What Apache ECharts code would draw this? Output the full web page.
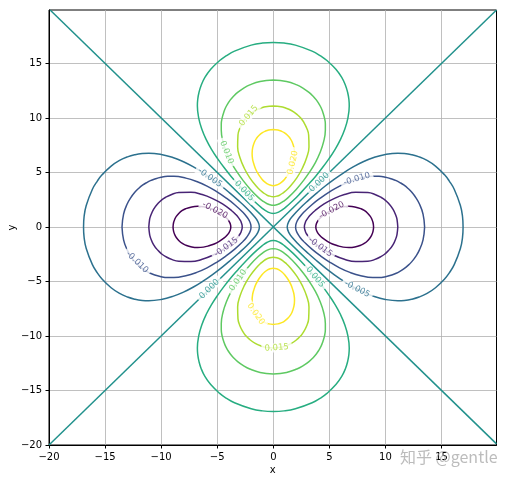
<!DOCTYPE html>
<html><head><meta charset="utf-8">
<script src="https://cdn.jsdelivr.net/npm/echarts@6/dist/echarts.min.js"></script>
<style>html,body{margin:0;padding:0;background:#fff}#c{width:506px;height:483px}</style>
</head><body><div id="c"></div>
<script>
// ---- data ----
const xTicks = [-20, -15, -10, -5, 0, 5, 10, 15];
const yTicks = [-20, -15, -10, -5, 0, 5, 10, 15];
const levelNames = ['-0.020', '-0.015', '-0.010', '-0.005', '0.000', '0.005', '0.010', '0.015', '0.020'];

// right half of the upper (positive) lobe for each positive level, from top point down to bottom point
const lobe005 = [[0,16.92],[0.96,16.87],[1.97,16.68],[3.46,16.13],[4.21,15.69],[4.78,15.27],[5.58,14.46],[6.10,13.71],[6.43,13.0],[6.63,12.33],[6.74,11.69],[6.77,11.10],[6.65,9.99],[6.37,8.96],[5.98,8.01],[5.51,7.12],[4.97,6.27],[4.39,5.45],[3.78,4.66],[3.13,3.90],[2.46,3.15],[1.77,2.42],[1.01,1.73],[0.54,1.40],[0,1.24]];
const lobe010 = [[0,13.49],[1.18,13.35],[2.10,13.03],[2.67,12.72],[3.18,12.35],[3.55,11.99],[3.85,11.63],[4.07,11.29],[4.25,10.96],[4.38,10.63],[4.56,10.01],[4.64,9.42],[4.64,8.86],[4.48,7.80],[4.17,6.83],[3.75,5.91],[3.24,5.05],[2.67,4.23],[2.04,3.44],[1.32,2.69],[0.89,2.34],[0.55,2.13],[0.22,2.01],[0,1.99]];
const lobe015 = [[0,11.10],[0.69,11.03],[0.96,10.96],[1.61,10.68],[2.17,10.27],[2.48,9.95],[2.70,9.63],[3.0,9.01],[3.15,8.43],[3.18,7.34],[2.97,6.34],[2.60,5.41],[2.11,4.53],[1.49,3.71],[1.11,3.32],[0.83,3.09],[0.60,2.94],[0.45,2.87],[0,2.77]];
const lobe020 = [[0,8.94],[0.41,8.89],[0.75,8.77],[0.97,8.65],[1.26,8.41],[1.51,8.11],[1.67,7.82],[1.84,7.27],[1.89,6.74],[1.85,6.23],[1.73,5.75],[1.56,5.27],[1.32,4.82],[1.01,4.38],[0.77,4.13],[0.54,3.96],[0.29,3.84],[0,3.79]];

// the 0.000 contour (two diagonals)
const zeroLineA = [[-20,-20],[19.9,19.9]];
const zeroLineB = [[-19.9,19.9],[19.9,-19.9]];

// contour labels: text, x, y, rotation (deg)
const contourLabels = [
  ['0.015', -2.2, 10.2, 50], ['0.010', -4.17, 6.83, -68], ['0.005', -2.6, 3.3, -47], ['0.020', 1.75, 5.9, 77],
  ['0.020', -1.57, -7.98, -55], ['0.015', 0.3, -11.08, 4], ['0.010', -3.14, -4.9, 55], ['0.005', 3.73, -4.6, -50],
  ['0.000', 4.1, 4.1, 44], ['0.000', -5.7, -5.7, 44],
  ['-0.005', -5.65, 4.52, -35], ['-0.020', -5.2, 1.53, -28], ['-0.010', -12.15, -3.22, -44], ['-0.015', -4.19, -1.85, 36],
  ['-0.010', 7.45, 4.4, 17], ['-0.020', 5.2, 1.53, 28], ['-0.015', 4.19, -1.85, -36], ['-0.005', 7.48, -5.7, -27]
];

// ---- styling ----
const palette = ['#440154','#482475','#3b528b','#2c718e','#21918c','#27ad81','#5ec962','#addc30','#fde725'];
const colorOf = t => palette[levelNames.indexOf(t)];

function closeLobe(half) {
  return half.concat(half.slice(0, -1).reverse().map(p => [-p[0], p[1]]));
}
const posLobes = [['0.005', lobe005], ['0.010', lobe010], ['0.015', lobe015], ['0.020', lobe020]];
const series = [];
function lineSeries(data, color) {
  return { type: 'line', data: data, smooth: 0.45, showSymbol: false, symbol: 'none', clip: true,
    lineStyle: { color: color, width: 1.5 }, z: 2, silent: true };
}
posLobes.forEach(([name, half]) => {
  const full = closeLobe(half);
  const neg = '-' + name;
  series.push(lineSeries(full, colorOf(name)));                                  // upper positive lobe
  series.push(lineSeries(full.map(p => [p[0], -p[1]]), colorOf(name)));          // lower positive lobe
  series.push(lineSeries(full.map(p => [p[1], p[0]]), colorOf(neg)));            // right negative lobe
  series.push(lineSeries(full.map(p => [-p[1], p[0]]), colorOf(neg)));           // left negative lobe
});
series.push(lineSeries(zeroLineA, colorOf('0.000')));
series.push(lineSeries(zeroLineB, colorOf('0.000')));
series.push({
  type: 'scatter', z: 5, silent: true, symbolSize: 1, itemStyle: { color: 'rgba(0,0,0,0)' },
  data: contourLabels.map(l => ({
    value: [l[1], l[2]],
    label: { show: true, position: 'inside', formatter: l[0], rotate: l[3], color: colorOf(l[0]),
      fontSize: 8.5, fontFamily: 'DejaVu Sans', backgroundColor: '#fff', padding: [0, 3],
      align: 'center', verticalAlign: 'middle' }
  }))
});

const tickFmt = v => (v < 0 ? '\u2212' + Math.abs(v) : String(v));
const axisCommon = {
  type: 'value', min: -20, max: 19.9, interval: 5,
  axisLine: { show: true, onZero: false, lineStyle: { color: '#000', width: 1 } },
  axisTick: { show: true, inside: false, length: 3.5, lineStyle: { color: '#000', width: 1 } },
  splitLine: { show: true, lineStyle: { color: '#b0b0b0', width: 0.8 } },
  nameLocation: 'middle', nameMoveOverlap: false,
  nameTextStyle: { color: '#000', fontSize: 10, fontFamily: 'DejaVu Sans' }
};
const chart = echarts.init(document.getElementById('c'), null, { renderer: 'canvas' });
chart.setOption({
  animation: false,
  backgroundColor: '#fff',
  grid: { left: 49, right: 9.5, top: 10, bottom: 38, containLabel: false, outerBoundsMode: 'none',
    show: true, borderColor: '#000', borderWidth: 1, backgroundColor: 'transparent' },
  xAxis: Object.assign({}, axisCommon, {
    name: 'x', nameGap: 20,
    axisTick: Object.assign({}, axisCommon.axisTick, { customValues: xTicks }),
    axisLabel: { customValues: xTicks, formatter: tickFmt, color: '#000', fontSize: 10, fontFamily: 'DejaVu Sans', margin: 7 }
  }),
  yAxis: Object.assign({}, axisCommon, {
    name: 'y', nameGap: 32,
    axisTick: Object.assign({}, axisCommon.axisTick, { customValues: yTicks }),
    axisLabel: { customValues: yTicks, formatter: tickFmt, color: '#000', fontSize: 10, fontFamily: 'DejaVu Sans', margin: 7 }
  }),
  graphic: [{ type: 'text', left: 400, top: 449, z: 100,
    style: { text: '知乎 @gentle', font: '16px "Noto Sans CJK SC"', fill: 'rgba(160,160,160,0.7)' } }],
  series: series
});
</script></body></html>
